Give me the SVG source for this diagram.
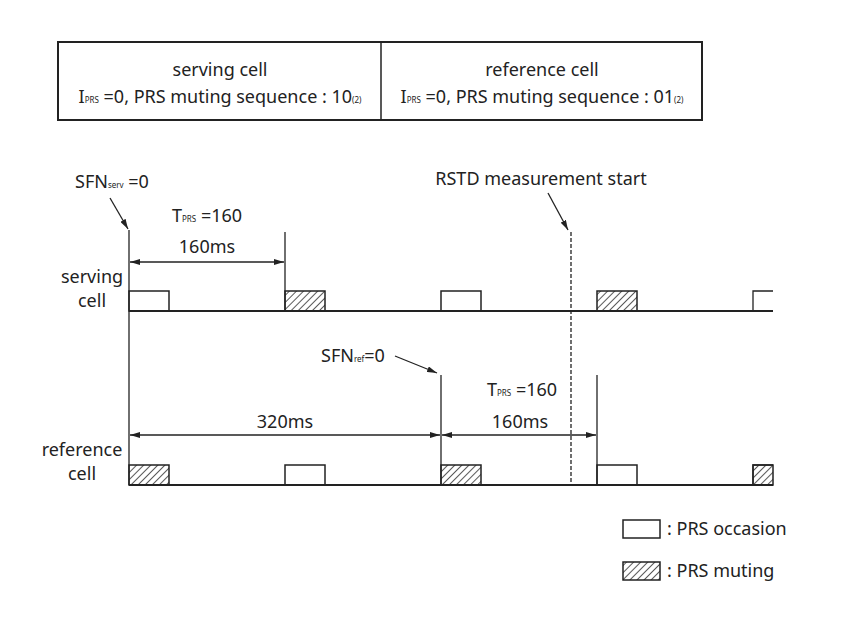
<svg xmlns="http://www.w3.org/2000/svg" width="842" height="625" viewBox="0 0 842 625">
<style>
text{font-family:"Noto Sans","Liberation Sans",sans-serif;font-size:18px;fill:#222}
.s{font-size:8px}
.ln{stroke:#222;stroke-width:2;fill:none}
.thin{stroke:#222;stroke-width:1.3;fill:none}
.occ{fill:#fff;stroke:#222;stroke-width:1.5}
.mut{fill:url(#hatch);stroke:#222;stroke-width:1.5}
</style>
<defs>
<pattern id="hatch" patternUnits="userSpaceOnUse" width="5" height="5" patternTransform="rotate(45)">
<rect width="5" height="5" fill="#fff"/><line x1="0" y1="0" x2="0" y2="5" stroke="#222" stroke-width="1.5"/>
</pattern>
<marker id="ar" markerWidth="10" markerHeight="6" refX="10" refY="3" orient="auto-start-reverse" markerUnits="userSpaceOnUse"><path d="M0,0 L10,3 L0,6 z" fill="#222"/></marker>
</defs>
<g id="table">
<rect x="58" y="42" width="644" height="78" fill="#fff" stroke="#222" stroke-width="2"/>
<line x1="381" y1="42" x2="381" y2="120" stroke="#222" stroke-width="1.5"/>
<text x="220" y="76" text-anchor="middle">serving cell</text>
<text x="220" y="103" text-anchor="middle">I<tspan class="s">PRS</tspan> =0, PRS muting sequence : 10<tspan class="s">(2)</tspan></text>
<text x="542" y="76" text-anchor="middle">reference cell</text>
<text x="542" y="103" text-anchor="middle">I<tspan class="s">PRS</tspan> =0, PRS muting sequence : 01<tspan class="s">(2)</tspan></text>
</g>
<g id="labels">
<text x="92" y="283" text-anchor="middle">serving</text>
<text x="92" y="307" text-anchor="middle">cell</text>
<text x="82" y="456" text-anchor="middle">reference</text>
<text x="82" y="480" text-anchor="middle">cell</text>
<text x="75" y="188">SFN<tspan class="s">serv</tspan> =0</text>
<text x="172" y="222">T<tspan class="s">PRS</tspan> =160</text>
<text x="207" y="253" text-anchor="middle">160ms</text>
<text x="541" y="185" text-anchor="middle">RSTD measurement start</text>
<text x="321" y="362">SFN<tspan class="s">ref</tspan>=0</text>
<text x="487" y="396">T<tspan class="s">PRS</tspan> =160</text>
<text x="285" y="428" text-anchor="middle">320ms</text>
<text x="520" y="428" text-anchor="middle">160ms</text>
</g>
<g id="serving-boxes">
<rect class="occ" x="129" y="291" width="40" height="20"/>
<rect class="mut" x="285" y="291" width="40" height="20"/>
<rect class="occ" x="441" y="291" width="40" height="20"/>
<rect class="mut" x="597" y="291" width="40" height="20"/>
<path class="thin" d="M753,311 V291 H773" stroke-width="1.5"/>
</g>
<g id="reference-boxes">
<rect class="mut" x="129" y="465" width="40" height="20"/>
<rect class="occ" x="285" y="465" width="40" height="20"/>
<rect class="mut" x="441" y="465" width="40" height="20"/>
<rect class="occ" x="597" y="465" width="40" height="20"/>
<rect class="mut" x="753" y="465" width="20" height="20" stroke="none"/>
<path class="thin" d="M753,485 V465 H773" stroke-width="1.5"/>
</g>
<g id="connectors">
<line class="ln" x1="129" y1="311" x2="773" y2="311"/>
<line class="ln" x1="129" y1="485" x2="773" y2="485"/>
<line class="thin" x1="129" y1="230" x2="129" y2="485"/>
<line class="thin" x1="285" y1="232" x2="285" y2="311"/>
<line class="thin" x1="441" y1="375" x2="441" y2="485"/>
<line class="thin" x1="597" y1="375" x2="597" y2="485"/>
<line class="thin" x1="571" y1="232" x2="571" y2="485" stroke-dasharray="4,2"/>
<line class="thin" x1="130" y1="262" x2="284" y2="262" marker-start="url(#ar)" marker-end="url(#ar)"/>
<line class="thin" x1="130" y1="435" x2="440" y2="435" marker-start="url(#ar)" marker-end="url(#ar)"/>
<line class="thin" x1="442" y1="435" x2="596" y2="435" marker-start="url(#ar)" marker-end="url(#ar)"/>
<line class="thin" x1="110" y1="198" x2="128" y2="229" marker-end="url(#ar)"/>
<line class="thin" x1="548" y1="193" x2="568" y2="230" marker-end="url(#ar)"/>
<line class="thin" x1="395" y1="356" x2="437" y2="373" marker-end="url(#ar)"/>
</g>
<g id="legend">
<rect class="occ" x="623" y="520" width="37" height="18"/>
<text x="667" y="535">: PRS occasion</text>
<rect class="mut" x="623" y="562" width="37" height="18"/>
<text x="667" y="577">: PRS muting</text>
</g>
</svg>
